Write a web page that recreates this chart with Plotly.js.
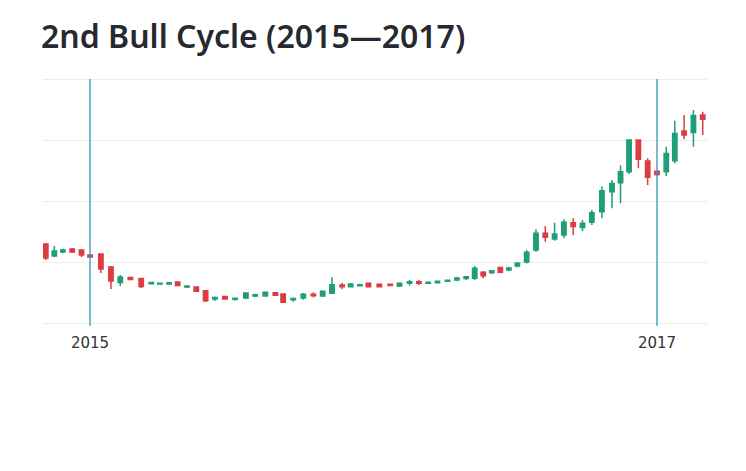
<!DOCTYPE html>
<html>
<head>
<meta charset="utf-8">
<script src="https://cdn.plot.ly/plotly-3.0.1.min.js"></script>
<style>html,body{margin:0;padding:0;background:#fff;}#chart{width:746px;height:471px;}</style>
</head>
<body>
<div id="chart"></div>
<script>
const dates = ['2014-11-05','2014-11-16','2014-11-27','2014-12-09','2014-12-21','2015-01-01','2015-01-15','2015-01-28','2015-02-09','2015-02-22',
  '2015-03-08','2015-03-21','2015-04-01','2015-04-13','2015-04-24','2015-05-06','2015-05-18','2015-05-30','2015-06-11','2015-06-24',
  '2015-07-07','2015-07-21','2015-08-02','2015-08-15','2015-08-28','2015-09-07','2015-09-20','2015-10-03','2015-10-16','2015-10-28',
  '2015-11-09','2015-11-22','2015-12-03','2015-12-15','2015-12-26','2016-01-09','2016-01-23','2016-02-04','2016-02-17','2016-02-29',
  '2016-03-12','2016-03-24','2016-04-06','2016-04-18','2016-04-30','2016-05-11','2016-05-22','2016-06-02','2016-06-13','2016-06-24',
  '2016-07-05','2016-07-17','2016-07-29','2016-08-10','2016-08-22','2016-09-03','2016-09-15','2016-09-27','2016-10-09','2016-10-22',
  '2016-11-04','2016-11-15','2016-11-26','2016-12-08','2016-12-20','2017-01-01','2017-01-13','2017-01-24','2017-02-05','2017-02-17','2017-03-01'];

const open  = [324,275,291,303,299,279,283,229,166,186,182,161,160,160,168,148,148,132,98,109,97,102,111,111,124,119,95,102,118,111,122,156,149,153,163,159,159,152,163,169,163,165,171,176,182,183,208,206,227,217,234,250,299,368,344,361,411,391,413,456,538,575,620,750,664,622,620,665,787,781,852];
const high  = [328,316,304,307,301,283,285,234,197,189,184,168,164,167,170,154,150,135,109,112,105,125,120,128,127,121,104,123,126,132,187,165,164,161,165,161,160,165,176,176,168,173,177,189,193,234,213,217,229,231,250,299,384,398,411,425,429,422,463,559,586,647,752,752,675,623,722,829,852,873,866];
const low   = [258,270,286,287,270,266,205,139,152,176,143,158,158,157,152,143,127,86,90,96,91,98,107,109,111,82,87,95,104,107,119,138,145,150,146,146,153,148,154,156,160,162,168,172,176,176,183,201,204,212,228,244,292,333,337,347,361,377,402,429,470,491,611,634,566,602,602,654,753,722,770];
const close = [266,295,299,291,279,270,221,172,189,178,150,166,163,165,154,152,130,91,104,98,101,123,116,126,114,85,100,118,112,130,157,149,160,157,149,149,154,163,169,163,167,171,175,184,190,224,194,214,208,225,245,290,368,351,365,413,395,409,452,542,572,620,750,671,597,609,695,777,770,850,835];

const tickVals = ['2015-01-01', '2017-01-01'];
const tickText = ['2015', '2017'];

const GREEN = '#1f9e78', RED = '#dc3d40', BLUE = '#3b9cc3';
const Y_MIN = -12.3, Y_MAX = 1012.3, Y_TOP_GRID = 1000;

const trace = {
  type: 'candlestick',
  x: dates, open: open, high: high, low: low, close: close,
  increasing: {line: {color: GREEN, width: 1.5}, fillcolor: GREEN},
  decreasing: {line: {color: RED, width: 1.5}, fillcolor: RED},
  hoverinfo: 'x+y'
};

const layout = {
  width: 746, height: 471,
  margin: {l: 43, r: 39, t: 76, b: 145},
  paper_bgcolor: '#ffffff', plot_bgcolor: '#ffffff',
  showlegend: false,
  boxgap: 0.2,
  title: {
    text: '2nd Bull Cycle (2015—2017)',
    x: 41/746, xref: 'container', xanchor: 'left',
    y: 1 - 37/471, yref: 'container', yanchor: 'middle',
    font: {family: '"Noto Sans", sans-serif', size: 32, color: '#262a30', weight: 600}
  },
  xaxis: {
    type: 'date',
    range: ['2014-11-01 09:00', '2017-03-06 12:00'],
    rangeslider: {visible: false},
    tickvals: tickVals, ticktext: tickText,
    showgrid: false, zeroline: false, showline: false,
    ticks: '', ticklabelstandoff: 6,
    tickfont: {family: '"DejaVu Sans", Verdana, sans-serif', size: 15, color: '#333333'}
  },
  yaxis: {
    range: [Y_MIN, Y_MAX], dtick: 250, tick0: 0,
    showticklabels: false, ticks: '',
    showgrid: true, gridcolor: '#ececec', gridwidth: 1,
    zeroline: false, showline: false, fixedrange: true
  },
  shapes: tickVals.map(v => ({
    type: 'line', xref: 'x', yref: 'y', x0: v, x1: v, y0: Y_MIN, y1: Y_TOP_GRID,
    line: {color: BLUE, width: 1.6}, opacity: 0.85, layer: 'above'
  }))
};

Plotly.newPlot('chart', [trace], layout, {displayModeBar: false, staticPlot: true});
</script>
</body>
</html>
